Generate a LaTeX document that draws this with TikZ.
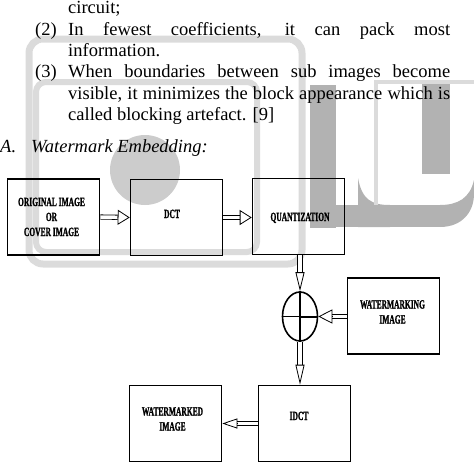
\documentclass[tikz,border=0pt]{standalone}
\usepackage{fontspec}
\setmainfont{Liberation Serif}
\newfontfamily\boxfont{Liberation Serif}[BoldFeatures={FakeBold=1.6}]
\usepackage{graphicx}
\usetikzlibrary{calc,arrows.meta,shapes.geometric}
\definecolor{wmA}{gray}{0.86}
\definecolor{wmB}{gray}{0.70}
\definecolor{wmC}{gray}{0.80}
\newcommand\cnd[1]{\scalebox{0.6}[1]{\begin{tabular}{@{}c@{}}#1\end{tabular}}}
% hollow block arrow: #1 start, #2 end (named), #3 head length, #4 head width
\newcommand\hollow[4]{%
  \draw[shaft] (#1) -- ($(#2)!#3pt!(#1)$);
  \draw[tipline,-{Triangle[fill=white,length=#3pt,width=#4pt]}] ($(#2)!#3pt!(#1)$) -- (#2);
}
\begin{document}
\begin{tikzpicture}[x=1pt,y=-1pt,
  body/.style={anchor=base west, inner sep=0pt, font=\fontsize{18.5}{21}\selectfont},
  ital/.style={body, font=\fontsize{18.5}{21}\selectfont\itshape},
  blk/.style={draw, line width=1.6pt, minimum width=92pt, minimum height=76pt, inner sep=0pt},
  lbl/.style={inner sep=0pt, font=\fontsize{12.5}{15}\boxfont\bfseries},
  shaft/.style={double, double distance=3.5pt, line width=0.8pt},
  tipline/.style={line width=0.8pt}]
\useasboundingbox (0,0) rectangle (474,463);

% background watermark logo
\draw[wmA, line width=7pt, rounded corners=14pt] (29,39) rectangle (302,264);
\draw[wmA, line width=6pt, rounded corners=10pt] (36,82) rectangle (257,252);
\fill[wmC] (145,170) circle (35pt);
\fill[wmB] (310,85) rectangle (336,228);
\fill[wmB] (336,205) rectangle (440,227);
\fill[wmB] (440,205) -- (440,227) .. controls (462,227) and (474,212) .. (474,194)
  -- (474,180) .. controls (470,198) and (458,205) .. (440,205) -- cycle;
\fill[wmB] (358,178) .. controls (362,200) and (372,205) .. (390,205) -- (390,227) -- (358,227) -- cycle;
\fill[wmB] (422,80) rectangle (450,174);
\fill[wmA] (374,80) rectangle (378,205);
\fill[wmA] (374,80) rectangle (474,84);

% body text
\node[body] (l0) at (68,13.5) {circuit;};
\node[body] (n2) at (35,35) {(2)};
\node[body] (l1) at (68,35) {\makebox[382pt][s]{In fewest coefficients, it can pack most}};
\node[body] (l2) at (68,56) {information.};
\node[body] (n3) at (35,77.5) {(3)};
\node[body] (l3) at (68,77.5) {\makebox[382pt][s]{When boundaries between sub images become}};
\node[body] (l4) at (68,99) {\makebox[382pt][s]{visible, it minimizes the block appearance which is}};
\node[body] (l5) at (68,120) {called blocking artefact. [9]};
\node[ital] (hA) at (0,152.5) {A.};
\node[ital] (hB) at (31,152.5) {Watermark Embedding:};

% blocks
\node[blk] (b1) at (53.5,217) {};
\node[blk] (b2) at (176.5,217.5) {};
\node[blk] (b3) at (298.5,216.5) {};
\node[blk] (wmk) at (393.5,316) {};
\node[blk] (idct) at (304.5,423.5) {};
\node[blk] (wmd) at (175.5,423.5) {};
\node[draw, ellipse, line width=1.6pt, minimum width=35pt, minimum height=49pt, inner sep=0pt] (mix) at (300,316.5) {};
\draw[line width=1.2pt] (mix.north) -- (mix.south);
\draw[line width=1.2pt] (mix.west) -- (mix.east);
\draw[line width=2pt] (mix.center) -- (mix.east);

% labels
\node[lbl] (t1) at (51.5,218) {\cnd{ORIGINAL IMAGE\\OR\\COVER IMAGE}};
\node[lbl] (t2) at (172,215) {\cnd{DCT}};
\node[lbl] (t3) at (300,218) {\cnd{QUANTIZATION}};
\node[lbl] (t4) at (392.5,313) {\cnd{WATERMARKING\\IMAGE}};
\node[lbl] (t5) at (172.5,420) {\cnd{WATERMARKED\\IMAGE}};
\node[lbl] (t6) at (299,417) {\cnd{IDCT}};

% connectors
\coordinate (a2) at (b2.east -| b3.west);
\coordinate (a3) at (b3.south -| mix.north);
\coordinate (a4) at (mix.east -| wmk.west);
\coordinate (a5) at (mix.south |- idct.north);
\coordinate (a6) at (wmd.east |- idct.west);
\hollow{b1.east}{b2.west}{12}{15}
\hollow{b2.east}{a2}{12}{15}
\hollow{a3}{mix.north}{19}{9}
\hollow{a4}{mix.east}{14}{14}
\hollow{mix.south}{a5}{20}{9}
\hollow{idct.west}{a6}{15}{10}
\end{tikzpicture}
\end{document}
